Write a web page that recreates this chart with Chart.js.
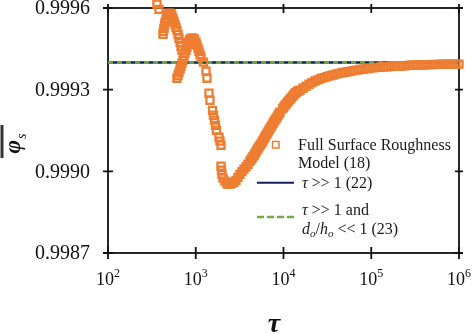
<!DOCTYPE html>
<html>
<head>
<meta charset="utf-8">
<script src="https://cdn.jsdelivr.net/npm/chart.js@4.4.0/dist/chart.umd.min.js"></script>
<style>
  body { margin: 0; background: #fff; }
  #wrap { width: 474px; height: 334px; }
</style>
</head>
<body>
<div id="wrap"><canvas id="myChart" width="474" height="334"></canvas></div>
<script>
// Full Surface Roughness Model (18): log10(tau) and phi_s
const logTau = [
  2.558, 2.581,
  2.627, 2.632, 2.638, 2.644, 2.650, 2.661, 2.672,
  2.684, 2.701, 2.718, 2.729,
  2.741, 2.752, 2.764, 2.775, 2.786, 2.798, 2.809, 2.821, 2.832, 2.843,
  2.786, 2.798, 2.809, 2.821, 2.832, 2.843, 2.855, 2.866, 2.877, 2.889, 2.900, 2.912, 2.923,
  2.934, 2.952, 2.969, 2.986,
  3.003, 3.014, 3.026, 3.037, 3.048, 3.060,
  3.088, 3.117, 3.128, 3.151, 3.162, 3.191, 3.202, 3.214, 3.225, 3.236, 3.265, 3.276, 3.288,
  3.288, 3.293, 3.299, 3.311, 3.333, 3.356,
  3.368, 3.390, 3.413, 3.436, 3.459, 3.481, 3.504, 3.527, 3.550, 3.573, 3.595, 3.618,
  3.641, 3.664, 3.687, 3.709, 3.732, 3.755, 3.778, 3.801, 3.823, 3.846, 3.869, 3.892,
  3.915, 3.937, 3.960, 3.989, 4.017, 4.046, 4.074, 4.103, 4.131, 4.160,
  3.630, 3.652, 3.675, 3.698, 3.721, 3.744, 3.766, 3.789, 3.812, 3.835, 3.858, 3.880,
  3.903, 3.926, 3.949, 4.003, 4.031, 4.060, 4.088, 4.117, 4.145, 4.174,
  4.188, 4.222, 4.256, 4.291, 4.325, 4.359, 4.393, 4.427, 4.462, 4.496, 4.530, 4.564,
  4.598, 4.632, 4.667, 4.701, 4.735, 4.769, 4.803, 4.838, 4.872, 4.906, 4.940, 4.974,
  5.009, 5.043, 5.077, 5.111, 5.145, 5.179, 5.214, 5.248, 5.282, 5.316, 5.350, 5.385,
  5.419, 5.453, 5.487, 5.521, 5.556, 5.590, 5.624, 5.658, 5.692, 5.726, 5.761, 5.795,
  5.829, 5.863, 5.897, 5.932, 5.966, 6.000
];
const phiS = [
  0.999614, 0.999595,
  0.999503, 0.999514, 0.999525, 0.999536, 0.999547, 0.999558, 0.999570,
  0.999577, 0.999581, 0.999579, 0.999573,
  0.999562, 0.999551, 0.999540, 0.999529, 0.999518, 0.999503, 0.999489, 0.999474, 0.999459, 0.999445,
  0.999342, 0.999353, 0.999364, 0.999375, 0.999386, 0.999397, 0.999408, 0.999419, 0.999434, 0.999445, 0.999456, 0.999467, 0.999478,
  0.999485, 0.999489, 0.999489, 0.999485,
  0.999474, 0.999463, 0.999452, 0.999441, 0.999430, 0.999419,
  0.999401, 0.999368, 0.999342, 0.999287, 0.999261, 0.999224, 0.999206, 0.999188, 0.999169, 0.999151, 0.999125, 0.999111, 0.999096,
  0.999019, 0.999004, 0.998989, 0.998975, 0.998964, 0.998955,
  0.998953, 0.998953, 0.998956, 0.998960, 0.998967, 0.998978, 0.998989, 0.998999, 0.999008, 0.999017, 0.999026, 0.999037,
  0.999048, 0.999059, 0.999072, 0.999085, 0.999096, 0.999107, 0.999120, 0.999133, 0.999145, 0.999158, 0.999169, 0.999182,
  0.999193, 0.999206, 0.999217, 0.999230, 0.999243, 0.999254, 0.999265, 0.999276, 0.999287, 0.999294,
  0.999043, 0.999054, 0.999065, 0.999078, 0.999090, 0.999101, 0.999113, 0.999126, 0.999139, 0.999152, 0.999164, 0.999176,
  0.999188, 0.999199, 0.999212, 0.999236, 0.999248, 0.999259, 0.999270, 0.999281, 0.999290, 0.999296,
  0.999298, 0.999305, 0.999312, 0.999320, 0.999326, 0.999332, 0.999336, 0.999341, 0.999344, 0.999348, 0.999351, 0.999354,
  0.999357, 0.999360, 0.999362, 0.999364, 0.999366, 0.999368, 0.999370, 0.999372, 0.999374, 0.999375, 0.999377, 0.999378,
  0.999380, 0.999381, 0.999382, 0.999383, 0.999384, 0.999384, 0.999385, 0.999386, 0.999387, 0.999387, 0.999388, 0.999388,
  0.999389, 0.999390, 0.999390, 0.999390, 0.999391, 0.999391, 0.999391, 0.999392, 0.999392, 0.999393, 0.999393, 0.999393,
  0.999394, 0.999394, 0.999394, 0.999394, 0.999394, 0.999394
];

// tau >> 1 (22)  and  tau >> 1 and do/ho << 1 (23)
const asymTau = [100, 1000000];
const asymPhi22 = [0.9994, 0.9994];
const asymPhi23 = [0.9994, 0.9994];

const xTickExp = [2, 3, 4, 5, 6];
const yTicks = [0.9987, 0.9990, 0.9993, 0.9996];

const ORANGE = "#ED7D31";
const NAVY = "#0F1F5C";
const GREEN = "#70AD47";
const SERIF = "'Liberation Serif', 'Times New Roman', serif";

function runs(ctx, x, y, parts) {
  parts.forEach((p) => {
    ctx.font = p.f + " " + SERIF;
    ctx.fillText(p.t, x, y + (p.dy || 0));
    x += ctx.measureText(p.t).width;
  });
}

const frame = {
  id: "frame",
  beforeDatasetsDraw(chart) {
    const { ctx, chartArea: a, scales } = chart;
    const x = scales.x, y = scales.y;
    ctx.save();
    ctx.strokeStyle = "#111";
    ctx.lineWidth = 1.8;
    ctx.strokeRect(a.left, a.top, a.right - a.left, a.bottom - a.top);
    ctx.beginPath();
    xTickExp.forEach((e) => {
      const px = x.getPixelForValue(10 ** e);
      ctx.moveTo(px, a.bottom - 6);
      ctx.lineTo(px, a.bottom + 6);
      ctx.moveTo(px, a.top - 4);
      ctx.lineTo(px, a.top + 5);
    });
    yTicks.forEach((v) => {
      const py = y.getPixelForValue(v);
      ctx.moveTo(a.left - 5, py);
      ctx.lineTo(a.left + 5, py);
      ctx.moveTo(a.right - 4, py);
      ctx.lineTo(a.right + 4, py);
    });
    ctx.stroke();
    ctx.restore();
  },
  afterDraw(chart) {
    const { ctx, chartArea: a, scales } = chart;
    const x = scales.x, y = scales.y;
    ctx.save();
    ctx.fillStyle = "#111";

    // y tick labels
    ctx.font = "20px " + SERIF;
    ctx.textAlign = "right";
    ctx.textBaseline = "middle";
    yTicks.forEach((v) => {
      ctx.fillText(v.toFixed(4), a.left - 18, y.getPixelForValue(v) + 1);
    });

    // x tick labels 10^n
    ctx.textAlign = "left";
    ctx.textBaseline = "alphabetic";
    xTickExp.forEach((e) => {
      const px = x.getPixelForValue(10 ** e);
      ctx.font = "18px " + SERIF;
      const w1 = ctx.measureText("10").width;
      ctx.font = "12px " + SERIF;
      const w2 = ctx.measureText(String(e)).width;
      const left = px - (w1 + w2) / 2;
      ctx.font = "18px " + SERIF;
      ctx.fillText("10", left, a.bottom + 32);
      ctx.font = "12px " + SERIF;
      ctx.fillText(String(e), left + w1, a.bottom + 24);
    });

    // x title
    ctx.font = "bold italic 28px " + SERIF;
    ctx.textAlign = "center";
    ctx.fillText("\u03C4", 274, 332);

    // y title: overline phi_s, rotated
    ctx.save();
    ctx.translate(20, 142);
    ctx.rotate(-Math.PI / 2);
    ctx.textAlign = "left";
    ctx.font = "bold italic 23px " + SERIF;
    const wp = ctx.measureText("\u03C6").width;
    ctx.fillText("\u03C6", -wp + 2, 0);
    ctx.font = "italic 14px " + SERIF;
    ctx.fillText("s", 3, 6);
    ctx.fillStyle = "#333";
    ctx.fillRect(-16, -19.5, 33, 3);
    ctx.restore();

    // legend
    ctx.textAlign = "left";
    ctx.fillStyle = "#1a1a1a";
    ctx.strokeStyle = ORANGE;
    ctx.lineWidth = 1.5;
    ctx.strokeRect(272.5, 141.5, 6.5, 6.5);
    runs(ctx, 298, 150, [{ t: "Full Surface Roughness", f: "16px" }]);
    runs(ctx, 298, 168, [{ t: "Model (18)", f: "16px" }]);

    ctx.strokeStyle = NAVY;
    ctx.lineWidth = 2;
    ctx.beginPath();
    ctx.moveTo(257, 182.7);
    ctx.lineTo(294, 182.7);
    ctx.stroke();
    runs(ctx, 302, 188, [{ t: "\u03C4", f: "italic 16px" }, { t: " >> 1 (22)", f: "16px" }]);

    ctx.strokeStyle = GREEN;
    ctx.lineWidth = 2.5;
    ctx.setLineDash([7, 3]);
    ctx.beginPath();
    ctx.moveTo(257, 217);
    ctx.lineTo(294, 217);
    ctx.stroke();
    ctx.setLineDash([]);
    runs(ctx, 302, 215, [{ t: "\u03C4", f: "italic 16px" }, { t: " >> 1 and", f: "16px" }]);
    runs(ctx, 302, 234, [
      { t: "d", f: "italic 16px" },
      { t: "o", f: "italic 11px", dy: 3 },
      { t: "/", f: "16px" },
      { t: "h", f: "italic 16px" },
      { t: "o", f: "italic 11px", dy: 3 },
      { t: " << 1 (23)", f: "16px" }
    ]);
    ctx.restore();
  }
};

const ctx = document.getElementById("myChart");

new Chart(ctx, {
  type: "scatter",
  data: {
    datasets: [
      {
        label: "Full Surface Roughness Model (18)",
        data: logTau.map((l, i) => ({ x: 10 ** l, y: phiS[i] })),
        showLine: false,
        pointStyle: "rect",
        pointRadius: 5,
        borderColor: ORANGE,
        backgroundColor: "rgba(255,255,255,0)",
        borderWidth: 2.3,
        clip: false
      },
      {
        label: "tau >> 1 and do/ho << 1 (23)",
        data: asymTau.map((t, i) => ({ x: t, y: asymPhi23[i] })),
        showLine: true,
        borderColor: GREEN,
        borderWidth: 2.4,
        borderDash: [5, 4],
        pointRadius: 0
      },
      {
        label: "tau >> 1 (22)",
        data: asymTau.map((t, i) => ({ x: t, y: asymPhi22[i] })),
        showLine: true,
        borderColor: NAVY,
        borderWidth: 2.4,
        pointRadius: 0
      }
    ]
  },
  options: {
    responsive: false,
    animation: false,
    layout: { padding: { left: 108, right: 15, top: 8, bottom: 81 } },
    plugins: { legend: { display: false }, tooltip: { enabled: false } },
    scales: {
      x: { type: "logarithmic", min: 100, max: 1000000, display: false },
      y: { type: "linear", min: 0.9987, max: 0.9996, display: false }
    }
  },
  plugins: [frame]
});
</script>
</body>
</html>
